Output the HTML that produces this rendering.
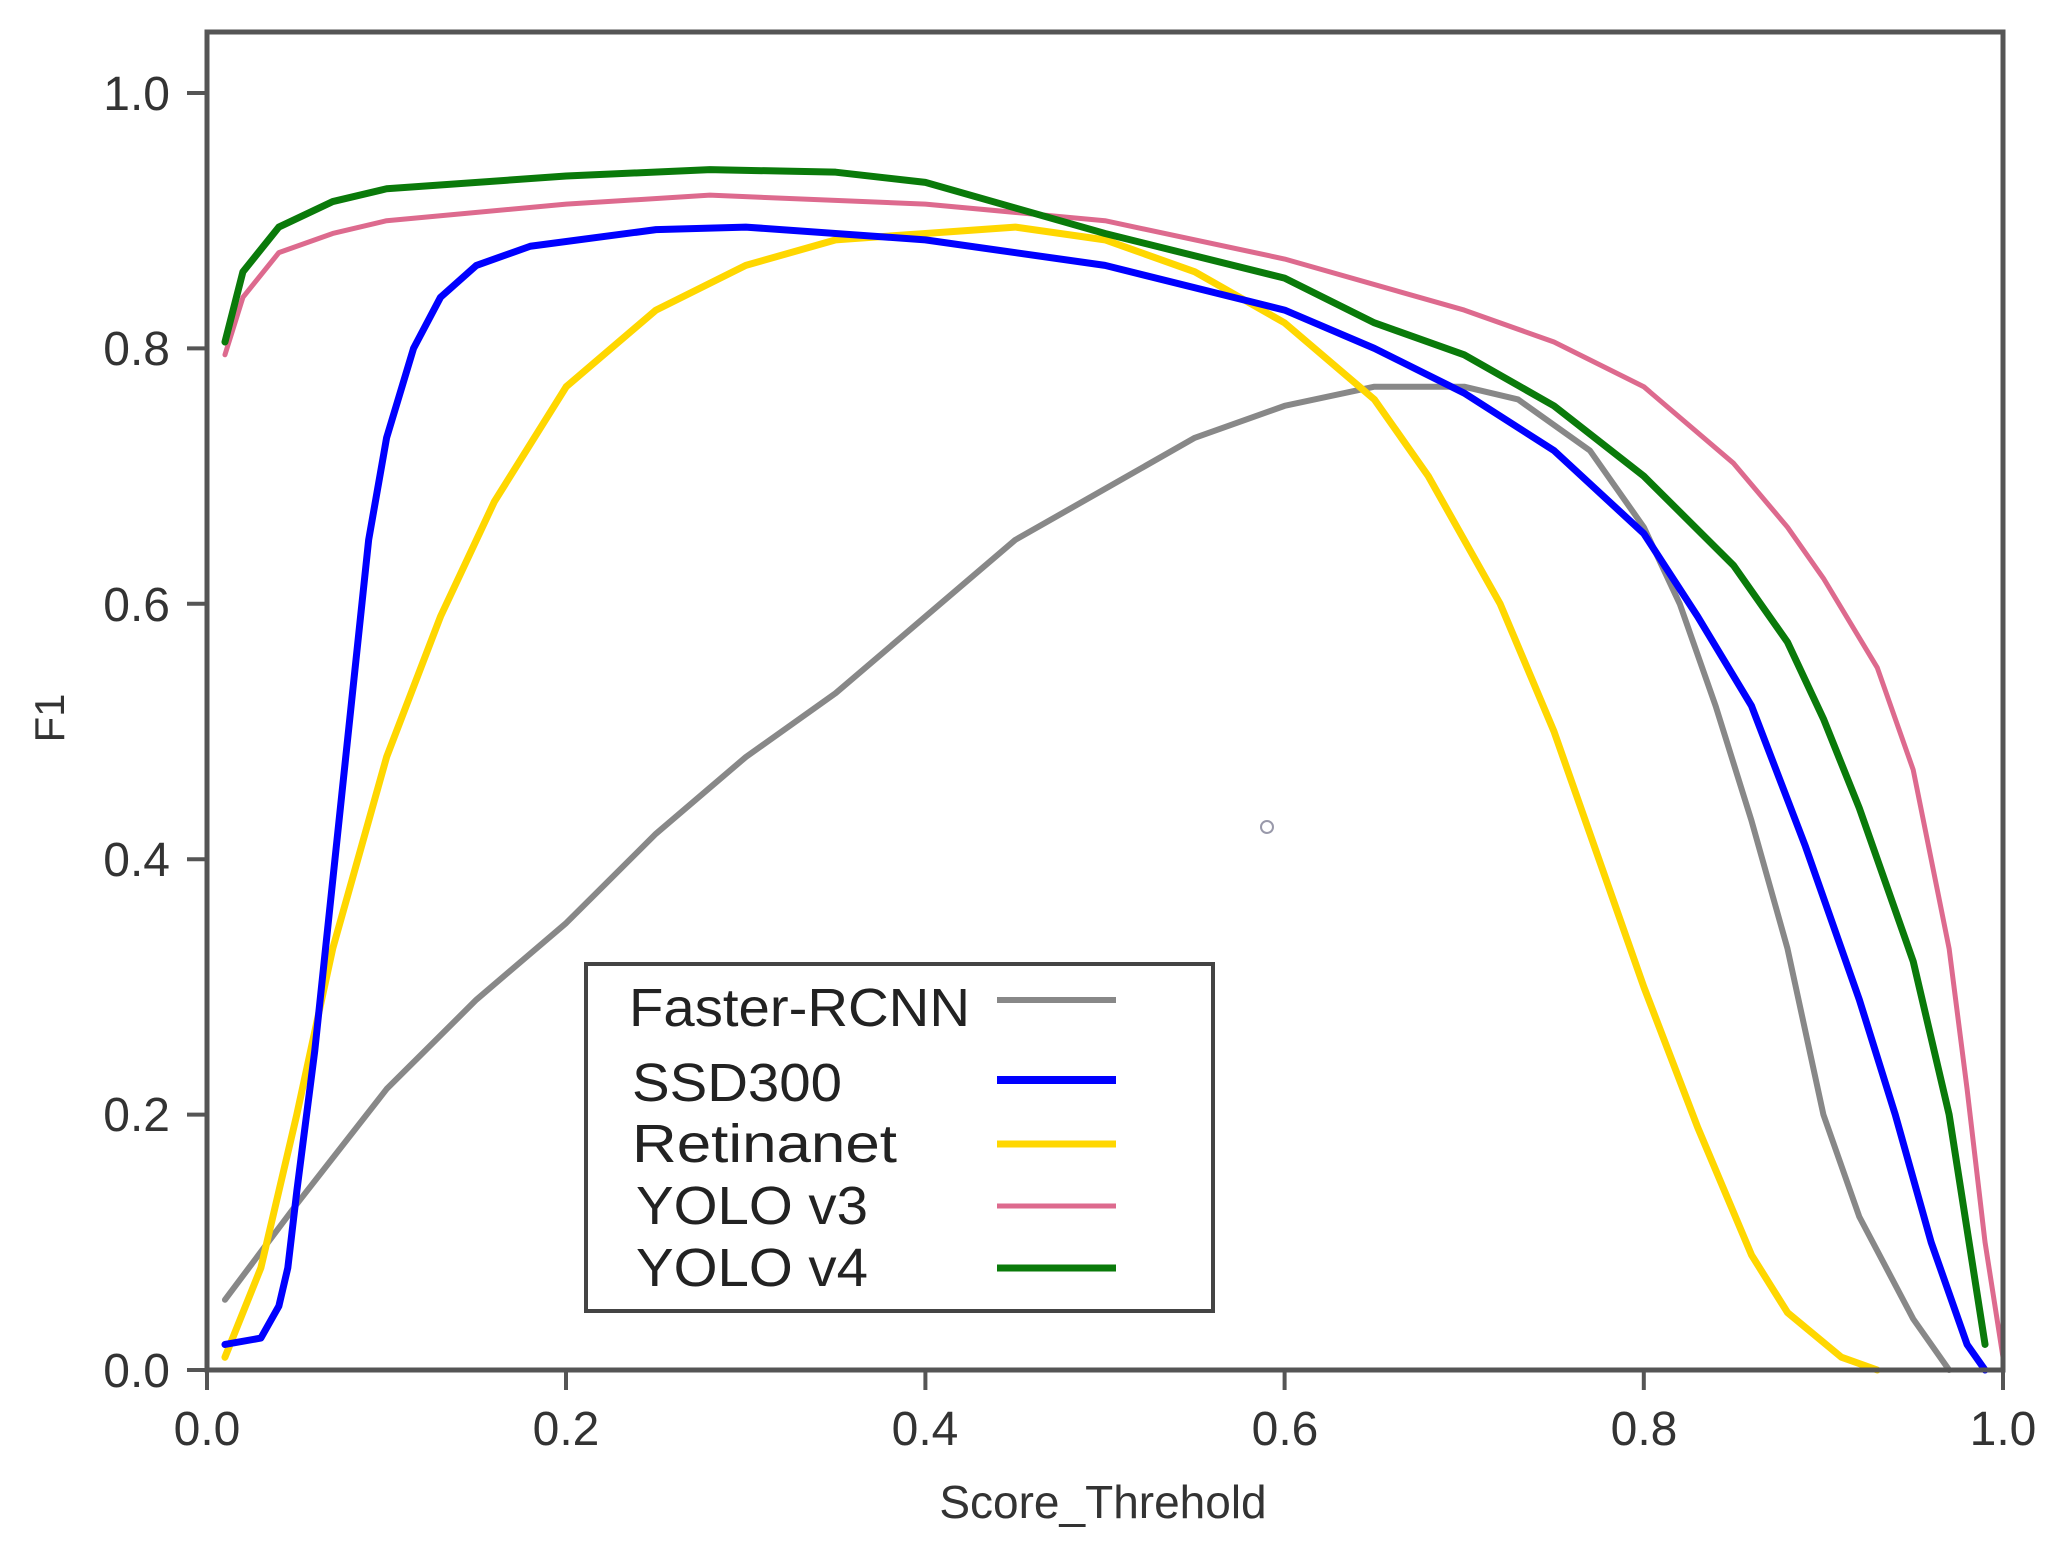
<!DOCTYPE html>
<html><head><style>body{margin:0;background:#fff}svg{display:block}</style></head>
<body>
<svg width="2063" height="1560" viewBox="0 0 2063 1560" xmlns="http://www.w3.org/2000/svg" font-family="Liberation Sans, sans-serif">
<rect width="2063" height="1560" fill="#fff"/>
<g transform="translate(207,1370) scale(1796,-1277)" fill="none" stroke-linejoin="round" stroke-linecap="round">
<polyline vector-effect="non-scaling-stroke" stroke="#888" stroke-width="6" points="0.01,0.055 0.05,0.13 0.1,0.22 0.15,0.29 0.2,0.35 0.25,0.42 0.3,0.48 0.35,0.53 0.4,0.59 0.45,0.65 0.5,0.69 0.55,0.73 0.6,0.755 0.65,0.77 0.7,0.77 0.73,0.76 0.77,0.72 0.8,0.66 0.82,0.6 0.84,0.52 0.86,0.43 0.88,0.33 0.9,0.2 0.92,0.12 0.95,0.04 0.97,0"/>
<polyline vector-effect="non-scaling-stroke" stroke="#ffd700" stroke-width="7" points="0.01,0.01 0.03,0.08 0.05,0.2 0.07,0.33 0.1,0.48 0.13,0.59 0.16,0.68 0.2,0.77 0.25,0.83 0.3,0.865 0.35,0.885 0.4,0.89 0.45,0.895 0.5,0.885 0.55,0.86 0.6,0.82 0.65,0.76 0.68,0.7 0.72,0.6 0.75,0.5 0.78,0.38 0.8,0.3 0.83,0.19 0.86,0.09 0.88,0.045 0.91,0.01 0.93,0"/>
<polyline vector-effect="non-scaling-stroke" stroke="#0000ff" stroke-width="7" points="0.01,0.02 0.03,0.025 0.04,0.05 0.045,0.08 0.05,0.14 0.06,0.25 0.075,0.45 0.09,0.65 0.1,0.73 0.115,0.8 0.13,0.84 0.15,0.865 0.18,0.88 0.25,0.893 0.3,0.895 0.4,0.885 0.5,0.865 0.6,0.83 0.65,0.8 0.7,0.765 0.75,0.72 0.8,0.655 0.83,0.59 0.86,0.52 0.89,0.41 0.92,0.29 0.94,0.2 0.96,0.1 0.98,0.02 0.99,0"/>
<polyline vector-effect="non-scaling-stroke" stroke="#dd6a8e" stroke-width="5" points="0.01,0.795 0.02,0.84 0.04,0.875 0.07,0.89 0.1,0.9 0.2,0.913 0.28,0.92 0.4,0.913 0.5,0.9 0.6,0.87 0.7,0.83 0.75,0.805 0.8,0.77 0.85,0.71 0.88,0.66 0.9,0.62 0.93,0.55 0.95,0.47 0.97,0.33 0.98,0.22 0.99,0.1 1.0,0.01"/>
<polyline vector-effect="non-scaling-stroke" stroke="#0a7a0a" stroke-width="7" points="0.01,0.805 0.02,0.86 0.04,0.895 0.07,0.915 0.1,0.925 0.2,0.935 0.28,0.94 0.35,0.938 0.4,0.93 0.45,0.91 0.5,0.89 0.6,0.855 0.65,0.82 0.7,0.795 0.75,0.755 0.8,0.7 0.85,0.63 0.88,0.57 0.9,0.51 0.92,0.44 0.95,0.32 0.97,0.2 0.99,0.02"/>
</g>
<circle cx="1267" cy="827" r="6" fill="none" stroke="#99a" stroke-width="2"/>
<rect x="207" y="32" width="1796" height="1338" fill="none" stroke="#555" stroke-width="5"/>
<g stroke="#555" stroke-width="4">
<line x1="187" y1="1370" x2="207" y2="1370"/><line x1="187" y1="1114.6" x2="207" y2="1114.6"/><line x1="187" y1="859.2" x2="207" y2="859.2"/><line x1="187" y1="603.8" x2="207" y2="603.8"/><line x1="187" y1="348.4" x2="207" y2="348.4"/><line x1="187" y1="93" x2="207" y2="93"/>
<line x1="207" y1="1370" x2="207" y2="1390"/><line x1="566" y1="1370" x2="566" y2="1390"/><line x1="925.4" y1="1370" x2="925.4" y2="1390"/><line x1="1284.6" y1="1370" x2="1284.6" y2="1390"/><line x1="1643.8" y1="1370" x2="1643.8" y2="1390"/><line x1="2003" y1="1370" x2="2003" y2="1390"/>
</g>
<g fill="#333" font-size="48" text-anchor="end">
<text x="170" y="1387">0.0</text><text x="170" y="1131">0.2</text><text x="170" y="876">0.4</text><text x="170" y="621">0.6</text><text x="170" y="365">0.8</text><text x="170" y="110">1.0</text>
</g>
<g fill="#333" font-size="48" text-anchor="middle">
<text x="207" y="1445">0.0</text><text x="566" y="1445">0.2</text><text x="925" y="1445">0.4</text><text x="1285" y="1445">0.6</text><text x="1644" y="1445">0.8</text><text x="2003" y="1445">1.0</text>
<text x="1103" y="1518" font-size="46">Score_Threhold</text>
</g>
<text transform="translate(64,718) rotate(-90)" fill="#333" font-size="42" text-anchor="middle">F1</text>
<rect x="586" y="964" width="627" height="347" fill="#fff" stroke="#444" stroke-width="4"/>
<g fill="#222" font-size="54">
<text x="629" y="1026" textLength="341" lengthAdjust="spacingAndGlyphs">Faster-RCNN</text>
<text x="632" y="1101" textLength="210" lengthAdjust="spacingAndGlyphs">SSD300</text>
<text x="632" y="1162" textLength="265" lengthAdjust="spacingAndGlyphs">Retinanet</text>
<text x="636" y="1224" textLength="232" lengthAdjust="spacingAndGlyphs">YOLO v3</text>
<text x="636" y="1286" textLength="232" lengthAdjust="spacingAndGlyphs">YOLO v4</text>
</g>
<line x1="997" y1="1000" x2="1116" y2="1000" stroke="#888" stroke-width="6"/>
<line x1="997" y1="1080" x2="1116" y2="1080" stroke="#0000ff" stroke-width="8"/>
<line x1="997" y1="1144" x2="1116" y2="1144" stroke="#ffd700" stroke-width="7"/>
<line x1="997" y1="1206" x2="1116" y2="1206" stroke="#dd6a8e" stroke-width="5"/>
<line x1="997" y1="1268" x2="1116" y2="1268" stroke="#0a7a0a" stroke-width="7"/>
</svg>
</body></html>
